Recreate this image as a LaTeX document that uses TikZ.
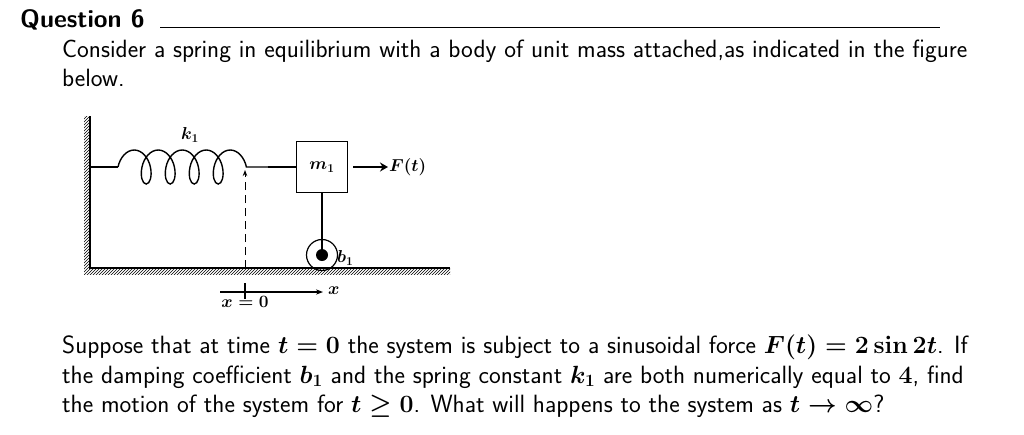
\documentclass[tikz,border=0pt]{standalone}
\usepackage{amsmath,bm}
\usetikzlibrary{patterns,decorations.pathmorphing,arrows.meta}
\newcommand{\lineC}{Suppose that at time $t=0$ the system is subject to a sinusoidal force $F(t)=2\sin 2t$. If}
\newcommand{\lineD}{the damping coefficient $b_1$ and the spring constant $k_1$ are both numerically equal to $4$, find}
\newcommand{\lineE}{the motion of the system for $t\geq 0$. What will happens to the system as $t\to\infty$?}
\begin{document}
\begin{tikzpicture}[x=1pt,y=-1pt,
  txt/.style={anchor=base west,inner sep=0,font=\fontsize{25}{30}\selectfont\sffamily\boldmath},
  lbl/.style={inner sep=1pt,font=\fontsize{18}{20}\selectfont\boldmath},
  thick line/.style={line width=2.2pt}]
\useasboundingbox (0,0) rectangle (1024,434);
\node[txt,font=\fontsize{25}{30}\selectfont\sffamily\bfseries] (q) at (20,27) {Question 6};
\coordinate (ls) at (160,27); \coordinate (le) at (940,27);
\draw[line width=0.8pt] (ls) -- (le);
\node[txt] (l1) at (62,57) {Consider a spring in equilibrium with a body of unit mass attached,as indicated in the figure};
\node[txt] (l2) at (62,86) {below.};
\node[txt] (l3) at (62,353) {\lineC};
\node[txt] (l4) at (62,383) {\lineD};
\node[txt] (l5) at (62,412) {\lineE};
% wall and floor
\fill[pattern=north east lines] (84,116) rectangle (90,274);
\fill[pattern=north east lines] (90,268) rectangle (450,274);
\coordinate (wt) at (90,116); \coordinate (wb) at (90,268); \coordinate (fe) at (450,268);
\draw[thick line] (wt) -- (wb) -- (fe);
% spring
\coordinate (s0) at (90,167); \coordinate (s1) at (118,167); \coordinate (s2) at (268,167);
\node[draw,line width=1.2pt,minimum width=51pt,minimum height=51pt,inner sep=0,font=\fontsize{18}{20}\selectfont\boldmath] (m) at (322,167) {$m_1$};
\draw[line width=1.2pt] (s0) -- (s1);
\draw[line width=1.4pt,decorate,decoration={coil,aspect=0.6,amplitude=17pt,segment length=24pt}] (s1) -- (s2);
\draw[line width=1.2pt] (s2) -- (m.west);
\node[lbl] (k) at (190,135) {$k_1$};
% force
\node[lbl,anchor=west] (F) at (388,167) {$F(t)$};
\coordinate (fs) at (353,167);
\draw[line width=2.5pt,-{Stealth[length=8pt,width=9pt]}] (fs) -- (F.west);
% damper
\node[circle,draw,line width=1.2pt,minimum size=31pt,inner sep=0] (d) at (322,255) {};
\fill (d.center) circle (6);
\draw[line width=1.2pt] (m.south) -- (d.center);
\node[lbl,anchor=west] (b) at (336,258) {$b_1$};
% dashed
\coordinate (db) at (245,268); \coordinate (dt) at (245,170);
\draw[line width=1pt,dash pattern=on 8pt off 5pt,-{Stealth[length=6pt]}] (db) -- (dt);
% axis
\coordinate (a0) at (220,292); \coordinate (a1) at (323,292);
\draw[line width=1.2pt,-{Stealth[length=7pt]}] (a0) -- (a1);
\coordinate (t0) at (245,283); \coordinate (t1) at (245,299);
\draw[line width=1.6pt] (t0) -- (t1);
\node[lbl] (x0) at (245,302) {$x=0$};
\node[lbl,anchor=west] (xl) at (327,291) {$x$};
\end{tikzpicture}
\end{document}
